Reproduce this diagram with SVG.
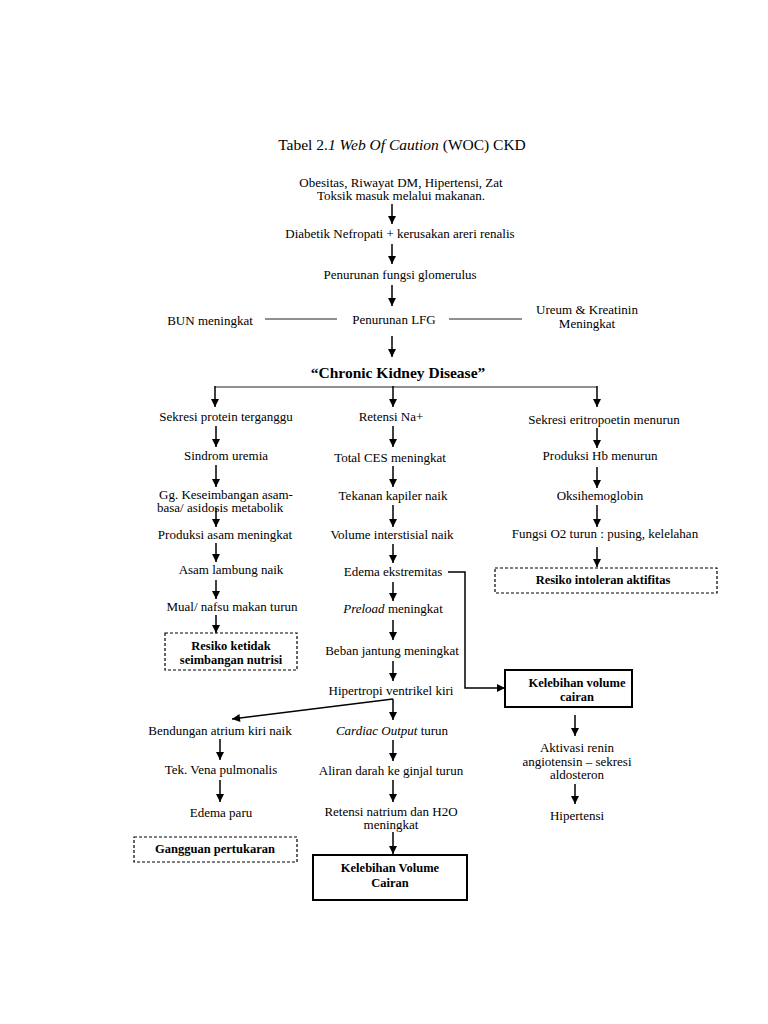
<svg xmlns="http://www.w3.org/2000/svg" width="768" height="1024" viewBox="0 0 768 1024">
<defs>
<marker id="ah" viewBox="0 0 10 10" refX="10" refY="5" markerWidth="9" markerHeight="8" markerUnits="userSpaceOnUse" orient="auto">
<path d="M0,0 L10,5 L0,10 z" fill="#000"/>
</marker>
</defs>
<style>
text{font-family:"Liberation Serif","Times New Roman",serif;font-size:13px;fill:#000;text-anchor:middle}
.t{font-size:15.5px}
.b{font-weight:bold;font-size:12.5px}
.h{font-size:15.5px;font-weight:bold}
.s{text-anchor:start}
.a{stroke:#000;stroke-width:1.5;fill:none;marker-end:url(#ah)}
.l{stroke:#222;stroke-width:1.2;fill:none}
.d{stroke:#000;stroke-width:1.2;fill:#fff;stroke-dasharray:3,2}
.k{stroke:#000;stroke-width:2;fill:#fff}
</style>
<rect width="768" height="1024" fill="#fff"/>
<g id="title"><text class="t" x="402" y="150">Tabel 2.<tspan font-style="italic">1 Web Of Caution</tspan> (WOC) CKD</text></g>

<g id="connectors">
<line class="a" x1="392" y1="204" x2="392" y2="224"/>
<line class="a" x1="392" y1="244" x2="392" y2="264"/>
<line class="a" x1="392" y1="285" x2="392" y2="306"/>
<line class="l" x1="265" y1="319" x2="337" y2="319"/>
<line class="l" x1="449" y1="319" x2="522" y2="319"/>
<line class="a" x1="392" y1="336" x2="392" y2="357"/>
<path class="l" d="M215,387 H597" stroke-width="1.5"/>
<line class="a" x1="215" y1="386" x2="215" y2="407"/>
<line class="a" x1="393" y1="386" x2="393" y2="407"/>
<line class="a" x1="597" y1="386" x2="597" y2="407"/>
<line class="a" x1="216" y1="426" x2="216" y2="447"/>
<line class="a" x1="216" y1="465" x2="216" y2="487"/>
<line class="a" x1="216" y1="508" x2="216" y2="527"/>
<line class="a" x1="216" y1="543" x2="216" y2="562"/>
<line class="a" x1="216" y1="580" x2="216" y2="599"/>
<line class="a" x1="216" y1="615" x2="216" y2="633"/>
<line class="a" x1="393" y1="426" x2="393" y2="447"/>
<line class="a" x1="393" y1="466" x2="393" y2="487"/>
<line class="a" x1="393" y1="505" x2="393" y2="527"/>
<line class="a" x1="393" y1="544" x2="393" y2="563"/>
<line class="a" x1="393" y1="582" x2="393" y2="601"/>
<line class="a" x1="393" y1="620" x2="393" y2="640"/>
<line class="a" x1="393" y1="661" x2="393" y2="681"/>
<line class="a" x1="393" y1="699" x2="393" y2="720"/>
<path class="a" d="M393,699 L232,719"/>
<path class="a" d="M448,572 H465 V688 H505" stroke-width="1.2"/>
<line class="a" x1="220" y1="739" x2="220" y2="760"/>
<line class="a" x1="220" y1="780" x2="220" y2="802"/>
<line class="a" x1="393" y1="740" x2="393" y2="761"/>
<line class="a" x1="393" y1="780" x2="393" y2="802"/>
<line class="a" x1="393" y1="832" x2="393" y2="854"/>
<line class="a" x1="597" y1="428" x2="597" y2="448"/>
<line class="a" x1="597" y1="467" x2="597" y2="488"/>
<line class="a" x1="597" y1="505" x2="597" y2="527"/>
<line class="a" x1="597" y1="547" x2="597" y2="567"/>
<line class="a" x1="575" y1="715" x2="575" y2="736"/>
<line class="a" x1="575" y1="784" x2="575" y2="804"/>
</g>

<g id="n-obesitas"><text x="401" y="187">Obesitas, Riwayat DM, Hipertensi, Zat</text><text x="401" y="200">Toksik masuk melalui makanan.</text></g>
<g id="n-diabetik"><text x="400" y="238">Diabetik Nefropati + kerusakan areri renalis</text></g>
<g id="n-glomerulus"><text x="400" y="279">Penurunan fungsi glomerulus</text></g>
<g id="n-lfg"><text x="394" y="324">Penurunan LFG</text></g>
<g id="n-bun"><text x="210" y="325">BUN meningkat</text></g>
<g id="n-ureum"><text x="587" y="314">Ureum &amp; Kreatinin</text><text x="587" y="328">Meningkat</text></g>
<g id="n-ckd"><text class="h" x="398" y="378">“Chronic Kidney Disease”</text></g>

<g id="n-sekresi-protein"><text x="226" y="421">Sekresi protein terganggu</text></g>
<g id="n-sindrom"><text x="226" y="460">Sindrom uremia</text></g>
<g id="n-gg"><text class="s" x="159" y="499">Gg. Keseimbangan asam-</text><text class="s" x="157" y="512">basa/ asidosis metabolik</text></g>
<g id="n-produksi-asam"><text x="225" y="539">Produksi asam meningkat</text></g>
<g id="n-asam-lambung"><text x="231" y="574">Asam lambung naik</text></g>
<g id="n-mual"><text x="232" y="611">Mual/ nafsu makan turun</text></g>
<g id="n-resiko-nutrisi"><rect class="d" x="165" y="633" width="132" height="37"/><text class="b" x="231" y="650">Resiko ketidak</text><text class="b" x="231" y="664">seimbangan nutrisi</text></g>

<g id="n-retensi-na"><text x="391" y="421">Retensi Na+</text></g>
<g id="n-ces"><text x="390" y="462">Total CES meningkat</text></g>
<g id="n-tekanan"><text x="393" y="500">Tekanan kapiler naik</text></g>
<g id="n-volume-int"><text x="392" y="539">Volume interstisial naik</text></g>
<g id="n-edema-eks"><text x="393" y="576">Edema ekstremitas</text></g>
<g id="n-preload"><text x="393" y="613"><tspan font-style="italic">Preload</tspan> meningkat</text></g>
<g id="n-beban"><text x="392" y="655">Beban jantung meningkat</text></g>
<g id="n-hipertropi"><text x="391" y="695">Hipertropi ventrikel kiri</text></g>
<g id="n-bendungan"><text x="220" y="735">Bendungan atrium kiri naik</text></g>
<g id="n-vena"><text x="221" y="774">Tek. Vena pulmonalis</text></g>
<g id="n-edema-paru"><text x="221" y="817">Edema paru</text></g>
<g id="n-gangguan"><rect class="d" x="134" y="837" width="163" height="25"/><text class="b" x="215" y="853">Gangguan pertukaran</text></g>
<g id="n-cardiac"><text x="392" y="735"><tspan font-style="italic">Cardiac Output</tspan> turun</text></g>
<g id="n-aliran"><text x="391" y="775">Aliran darah ke ginjal turun</text></g>
<g id="n-retensi-natrium"><text x="391" y="816">Retensi natrium dan H2O</text><text x="391" y="829">meningkat</text></g>
<g id="n-kelebihan-bawah"><rect class="k" x="313" y="855" width="154" height="45"/><text class="b" x="390" y="872">Kelebihan Volume</text><text class="b" x="390" y="887">Cairan</text></g>

<g id="n-eritropoetin"><text x="604" y="424">Sekresi eritropoetin menurun</text></g>
<g id="n-hb"><text x="600" y="460">Produksi Hb menurun</text></g>
<g id="n-oksi"><text x="600" y="500">Oksihemoglobin</text></g>
<g id="n-fungsi-o2"><text x="605" y="538">Fungsi O2 turun : pusing, kelelahan</text></g>
<g id="n-resiko-intoleran"><rect class="d" x="495" y="568" width="222" height="25"/><text class="b" x="603" y="584">Resiko intoleran aktifitas</text></g>
<g id="n-kelebihan-kanan"><rect class="k" x="505" y="670" width="127" height="37"/><text class="b" x="577" y="687">Kelebihan volume</text><text class="b" x="577" y="701">cairan</text></g>
<g id="n-renin"><text x="577" y="752">Aktivasi renin</text><text x="577" y="766">angiotensin – sekresi</text><text x="577" y="779">aldosteron</text></g>
<g id="n-hipertensi"><text x="577" y="820">Hipertensi</text></g>
</svg>
